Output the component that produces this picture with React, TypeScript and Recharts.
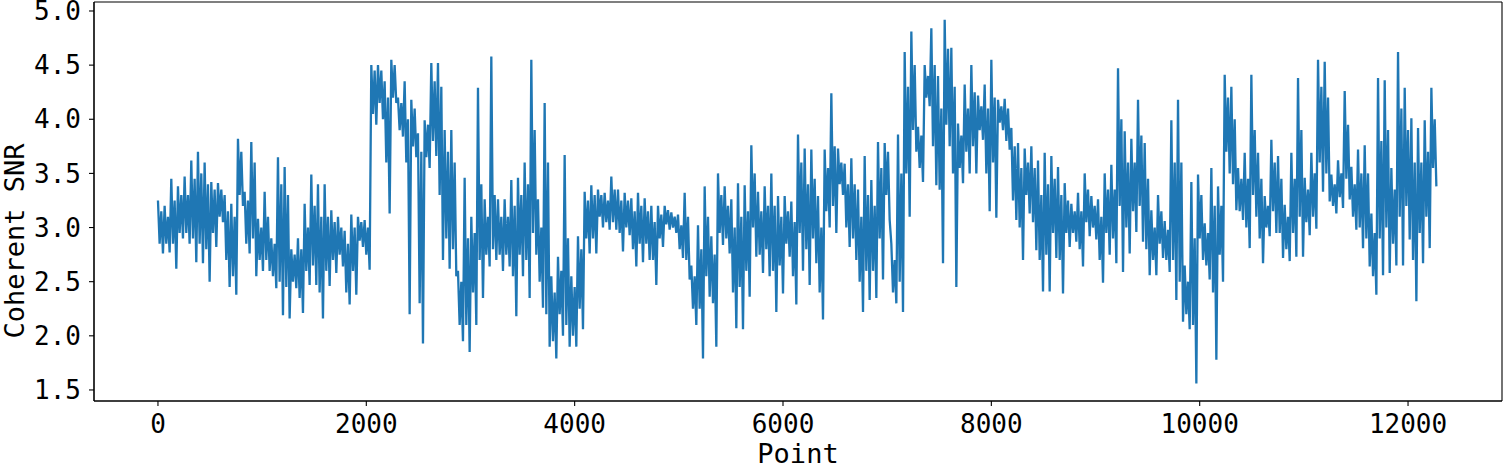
import { LineChart, Line, XAxis, YAxis, CartesianGrid } from 'recharts'

// trace read per 64-point bin: outer extremes and the edges of the dense core
const binSize = 64
const binHi = [
  3.25, 3.2, 3.45, 3.38, 3.47, 3.62, 3.7, 3.6, 3.42, 3.41, 3.3, 3.22, 3.82, 3.33, 3.79, 3.08,
  3.33, 2.9, 3.65, 3.56, 2.8, 2.9, 3.22, 3.49, 3.4, 3.4, 3.16, 3.1, 2.97, 3.12, 3.1, 3.07,
  4.5, 4.5, 4.35, 4.55, 4.2, 4.35, 4.18, 3.87, 3.99, 4.52, 4.52, 3.9, 3.9, 2.6, 3.46, 3.1,
  4.29, 3.26, 4.58, 3.26, 3.26, 3.44, 3.46, 3.6, 4.55, 3.26, 4.15, 2.55, 2.73, 3.67, 2.55, 2.92,
  3.33, 3.39, 3.35, 3.32, 3.47, 3.35, 3.32, 3.27, 3.32, 3.27, 3.2, 3.2, 3.2, 3.14, 3.12, 3.32,
  2.65, 3.02, 3.38, 2.92, 3.5, 3.38, 3.26, 3.41, 3.39, 3.76, 3.33, 3.38, 3.5, 3.29, 3.29, 3.24,
  3.86, 3.73, 3.72, 3.29, 3.72, 4.24, 3.73, 3.59, 3.64, 3.35, 3.66, 3.44, 3.79, 3.78, 2.85, 3.86,
  4.62, 4.81, 3.93, 4.5, 4.84, 4.4, 4.92, 4.66, 3.96, 4.32, 4.5, 4.22, 4.32, 4.55, 4.18, 4.19,
  3.92, 3.78, 3.73, 3.75, 3.62, 3.69, 3.66, 3.56, 3.41, 3.22, 3.32, 3.5, 3.29, 3.26, 3.5, 3.58,
  4.47, 3.89, 3.82, 4.18, 3.78, 3.16, 3.3, 3.06, 3.99, 4.18, 2.65, 3.42, 3.49, 3.04, 3.55, 3.38,
  4.41, 4.3, 3.55, 3.69, 4.41, 3.69, 3.29, 3.81, 3.66, 3.21, 3.69, 4.38, 3.46, 3.69, 4.55, 4.53,
  3.49, 3.62, 4.26, 3.56, 3.72, 3.76, 3.13, 4.38, 4.36, 3.55, 4.62, 4.29, 4.01, 3.92, 3.99, 4.29,
]
const coreHi = [
  3.15, 3.1, 3.25, 3.3, 3.3, 3.45, 3.5, 3.4, 3.35, 3.35, 3.15, 3.1, 3.7, 3.25, 3.6, 3.0,
  3.1, 2.85, 3.4, 3.3, 2.75, 2.8, 3.0, 3.2, 3.1, 3.1, 3.05, 3.0, 2.85, 3.0, 3.05, 3.0,
  4.45, 4.45, 4.2, 4.5, 4.15, 4.0, 4.1, 3.7, 3.95, 4.35, 4.3, 3.7, 3.6, 2.5, 2.9, 2.95,
  3.4, 3.1, 3.3, 3.1, 3.1, 3.2, 3.3, 3.4, 3.9, 3.0, 3.6, 2.4, 2.6, 2.9, 2.45, 2.8,
  3.25, 3.3, 3.3, 3.25, 3.35, 3.25, 3.25, 3.15, 3.2, 3.15, 3.05, 3.12, 3.16, 3.1, 3.02, 3.1,
  2.55, 2.8, 3.1, 2.75, 3.3, 3.2, 3.0, 3.1, 3.15, 3.5, 3.15, 3.2, 3.2, 3.1, 3.15, 3.05,
  3.6, 3.4, 3.45, 3.0, 3.55, 3.75, 3.6, 3.4, 3.4, 3.1, 3.3, 3.2, 3.55, 3.7, 2.7, 3.5,
  4.3, 4.5, 3.85, 4.4, 4.5, 4.1, 4.65, 4.3, 3.85, 4.1, 4.25, 4.12, 4.1, 4.2, 4.12, 4.1,
  3.75, 3.55, 3.6, 3.55, 3.3, 3.4, 3.45, 3.3, 3.25, 3.15, 3.15, 3.35, 3.2, 3.1, 3.35, 3.35,
  4.0, 3.6, 3.6, 3.85, 3.45, 3.0, 3.15, 2.98, 3.6, 3.6, 2.5, 2.9, 3.3, 2.95, 3.2, 3.2,
  4.2, 4.0, 3.45, 3.45, 3.9, 3.45, 3.2, 3.6, 3.45, 3.1, 3.45, 3.9, 3.35, 3.5, 4.3, 4.2,
  3.4, 3.5, 3.95, 3.4, 3.5, 3.5, 2.95, 3.8, 3.9, 3.35, 4.1, 3.9, 3.6, 3.6, 3.7, 4.0,
]
const coreLo = [
  2.85, 2.85, 2.85, 2.95, 2.95, 2.9, 2.85, 2.8, 2.95, 3.1, 2.7, 2.55, 3.3, 2.85, 2.9, 2.7,
  2.7, 2.55, 2.5, 2.45, 2.5, 2.35, 2.6, 2.65, 2.4, 2.6, 2.7, 2.75, 2.4, 2.6, 2.88, 2.75,
  4.05, 4.15, 3.6, 4.2, 3.9, 3.6, 3.75, 2.3, 3.65, 3.8, 3.3, 2.9, 2.8, 2.1, 2.1, 2.4,
  2.7, 2.75, 2.8, 2.75, 2.75, 2.55, 2.75, 2.7, 2.95, 2.5, 2.2, 1.95, 2.2, 2.1, 2.0, 2.25,
  2.9, 2.9, 3.1, 3.05, 3.05, 2.95, 3.0, 2.8, 2.85, 2.85, 2.7, 2.9, 3.03, 3.0, 2.8, 2.7,
  2.25, 2.25, 2.55, 2.3, 2.95, 2.9, 2.4, 2.45, 2.6, 3.0, 2.75, 2.8, 2.6, 2.65, 2.85, 2.55,
  2.95, 2.8, 2.9, 2.4, 3.15, 3.2, 3.4, 3.0, 2.9, 2.5, 2.6, 2.6, 2.9, 3.3, 2.4, 2.5,
  3.5, 3.9, 3.55, 4.2, 3.75, 3.35, 3.95, 3.5, 3.55, 3.7, 3.75, 3.9, 3.5, 3.6, 3.97, 3.8,
  3.25, 3.0, 3.3, 3.05, 2.7, 2.75, 2.95, 2.7, 2.95, 2.95, 2.8, 3.05, 3.0, 2.7, 2.95, 2.9,
  3.2, 3.0, 3.15, 3.2, 2.8, 2.7, 2.85, 2.7, 2.7, 2.5, 2.2, 2.1, 2.9, 2.65, 2.4, 2.75,
  3.7, 3.4, 3.15, 3.0, 3.3, 2.9, 3.0, 3.15, 2.95, 2.8, 2.95, 3.1, 3.05, 3.1, 3.6, 3.5,
  3.2, 3.28, 3.45, 3.1, 3.0, 2.9, 2.55, 2.9, 3.0, 2.85, 3.1, 3.2, 2.7, 2.95, 3.1, 3.55,
]
const binLo = [
  2.76, 2.77, 2.62, 2.9, 2.85, 2.68, 2.67, 2.5, 2.82, 3.05, 2.45, 2.38, 3.2, 2.76, 2.55, 2.6,
  2.6, 2.44, 2.19, 2.16, 2.44, 2.21, 2.47, 2.47, 2.16, 2.46, 2.58, 2.64, 2.29, 2.38, 2.82, 2.61,
  3.95, 4.0, 3.13, 4.15, 3.84, 2.2, 3.65, 1.93, 3.55, 3.66, 2.7, 2.62, 2.55, 1.95, 1.85, 2.1,
  2.35, 2.64, 2.7, 2.6, 2.64, 2.18, 2.55, 2.35, 2.75, 2.26, 1.9, 1.79, 2.0, 1.9, 1.9, 2.06,
  2.76, 2.76, 3.0, 2.98, 2.98, 2.78, 2.93, 2.64, 2.68, 2.7, 2.47, 2.82, 2.98, 2.95, 2.72, 2.52,
  2.1, 1.79, 2.36, 1.9, 2.84, 2.76, 2.07, 2.06, 2.36, 2.73, 2.58, 2.55, 2.22, 2.39, 2.73, 2.29,
  2.6, 2.47, 2.67, 2.15, 3.0, 2.95, 3.3, 2.82, 2.7, 2.22, 2.33, 2.35, 2.52, 3.07, 2.3, 2.22,
  3.1, 3.7, 3.42, 4.12, 3.39, 2.67, 3.75, 2.45, 3.41, 3.5, 3.5, 3.81, 3.15, 3.09, 3.9, 3.72,
  3.07, 2.7, 3.13, 2.79, 2.41, 2.41, 2.72, 2.39, 2.82, 2.87, 2.64, 2.92, 2.89, 2.49, 2.75, 2.67,
  2.59, 2.76, 2.96, 2.87, 2.56, 2.56, 2.72, 2.59, 2.33, 2.13, 2.06, 1.56, 2.7, 2.52, 1.78, 2.5,
  3.5, 3.16, 3.07, 2.81, 3.1, 2.67, 2.92, 2.95, 2.72, 2.69, 2.73, 2.73, 2.93, 2.99, 3.33, 3.24,
  3.13, 3.18, 3.26, 2.98, 2.81, 2.64, 2.38, 2.56, 2.58, 2.65, 2.65, 2.89, 2.32, 2.67, 2.81, 3.38,
]

const xTicks = [0, 2000, 4000, 6000, 8000, 10000, 12000]
const yTicks = [1.5, 2.0, 2.5, 3.0, 3.5, 4.0, 4.5, 5.0]

// each bin: high -> core low -> core high -> low
const data = binHi.flatMap((hi, i) => {
  const x0 = i * binSize
  return [
    { point: x0, snr: hi },
    { point: x0 + 16, snr: coreLo[i] },
    { point: x0 + 32, snr: coreHi[i] },
    { point: x0 + 48, snr: binLo[i] },
  ]
})

const font = 'DejaVu Sans Mono, Liberation Mono, monospace'
const tickStyle = { fontSize: 26, fill: '#000', fontFamily: font }
const frame = { stroke: '#000', strokeWidth: 1.1 }

export default function App() {
  return (
    <div style={{ position: 'absolute', left: 0, top: 0, background: '#fff' }}>
      <LineChart width={1503} height={469} data={data} margin={{ top: 2, right: 1, bottom: 0, left: 0 }}>
        <CartesianGrid
          stroke="#000"
          strokeWidth={1.1}
          horizontalCoordinatesGenerator={({ offset }: any) => [offset.top, offset.top + offset.height]}
          verticalCoordinatesGenerator={({ offset }: any) => [offset.left, offset.left + offset.width]}
        />
        <XAxis
          dataKey="point"
          type="number"
          domain={[-614, 12902]}
          allowDataOverflow
          ticks={xTicks}
          interval={0}
          height={68}
          tick={tickStyle}
          tickSize={5}
          tickMargin={9}
          axisLine={frame}
          tickLine={frame}
          label={(props: any) => {
            const vb = props.viewBox || { x: 94, width: 1408 }
            return (
              <text x={vb.x + vb.width / 2} y={463} textAnchor="middle" fontSize={27} fontFamily={font} fill="#000">
                Point
              </text>
            )
          }}
        />
        <YAxis
          type="number"
          domain={[1.398, 5.083]}
          allowDataOverflow
          ticks={yTicks}
          interval={0}
          width={94}
          tick={tickStyle}
          tickSize={5}
          tickMargin={8}
          tickFormatter={(v: number) => v.toFixed(1)}
          axisLine={frame}
          tickLine={frame}
          label={() => (
            <text x={24} y={241} transform="rotate(-90, 24, 241)" textAnchor="middle" fontSize={27} fontFamily={font} fill="#000">
              Coherent SNR
            </text>
          )}
        />
        <Line
          type="linear"
          dataKey="snr"
          stroke="#1f77b4"
          strokeWidth={2.3}
          dot={false}
          activeDot={false}
          isAnimationActive={false}
        />
      </LineChart>
    </div>
  )
}
